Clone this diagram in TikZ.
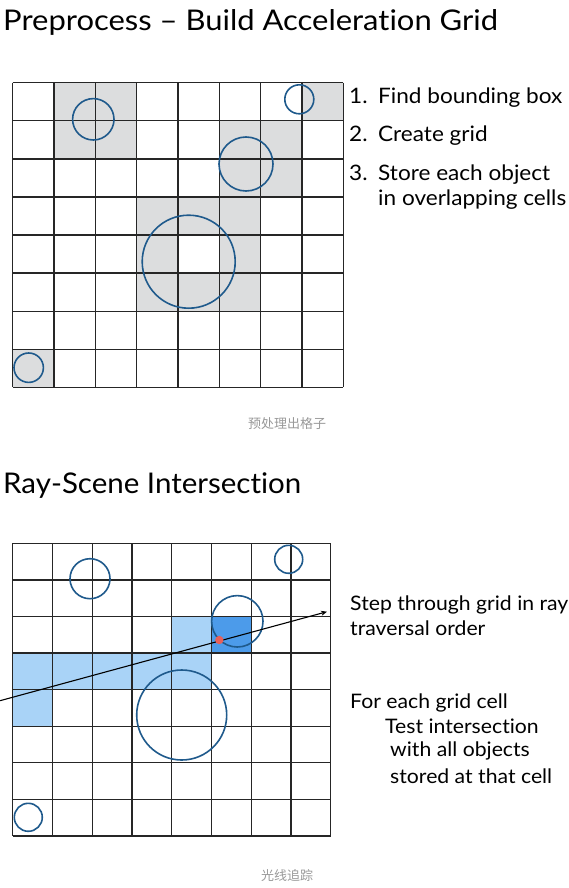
\documentclass[tikz,border=0pt]{standalone}
\usepackage{graphicx}
\usepackage{fontspec}
\setmainfont{Lato}[FakeStretch=1.06, Ligatures=NoCommon]
\newfontfamily\cjk{Noto Sans CJK SC}
\usetikzlibrary{arrows.meta}
\definecolor{cellgray}{HTML}{DCDDDE}
\definecolor{lightblue}{HTML}{A9D3F7}
\definecolor{darkblue}{HTML}{4C9BEA}
\definecolor{circ}{HTML}{1F5A8C}
\definecolor{hit}{HTML}{E8605A}
\definecolor{capgray}{HTML}{999999}
\tikzset{
  gridline/.style={line width=1.3pt, draw=black!85},
  obj/.style={line width=1.6pt, draw=circ},
  title/.style={anchor=base west, inner sep=0pt, font=\fontsize{28.5}{32}\selectfont},
  item/.style={anchor=base west, inner sep=0pt, font=\fontsize{20}{24}\selectfont},
  itemtop/.style={anchor=base west, inner sep=0pt, font=\fontsize{21.3}{24}\selectfont},
  caption/.style={anchor=center, inner sep=0pt, text=capgray, font=\cjk\fontsize{13}{15}\selectfont},
}
\begin{document}
\begin{tikzpicture}[x=1pt,y=-1pt]
\useasboundingbox (0,0) rectangle (569,888);
\fill[white] (0,0) rectangle (569,888);

% ---------- top ----------
\node[title] (t1) at (3,30.5) {\scalebox{1.025}[1]{Preprocess – Build Acceleration Grid}};

\def\ax{12.7}\def\ay{82.7}\def\aw{41.33}\def\ah{38.08}
\foreach \c/\r in {1/0,2/0,7/0,1/1,2/1,5/1,6/1,5/2,6/2,3/3,4/3,5/3,3/4,5/4,3/5,4/5,5/5,0/7}
  \fill[cellgray] ({\ax+\c*\aw},{\ay+\r*\ah}) rectangle ++(\aw,\ah);
\foreach \i in {0,...,8}{
  \draw[gridline] ({\ax+\i*\aw},\ay) -- ({\ax+\i*\aw},{\ay+8*\ah});
  \draw[gridline] (\ax,{\ay+\i*\ah}) -- ({\ax+8*\aw},{\ay+\i*\ah});
}
\draw[obj] (93.3,119.3) circle (20.7);
\draw[obj] (299.3,99.3) circle (14.5);
\draw[obj] (246,164) circle (27);
\draw[obj] (188.7,261.7) circle (46.5);
\draw[obj] (28.7,367.7) circle (14.7);

\node[itemtop] (n1) at (349,103.3) {1.};
\node[itemtop] (s1) at (378,103.3) {Find bounding box};
\node[itemtop] (n2) at (349,141.7) {2.};
\node[itemtop] (s2) at (378,141.7) {Create grid};
\node[itemtop] (n3) at (349,180) {3.};
\node[itemtop] (s3) at (378,180) {Store each object};
\node[itemtop] (s4) at (378,205) {in overlapping cells};

\node[caption] (c1) at (287,424) {预处理出格子};

% ---------- bottom ----------
\node[title] (t2) at (3,493) {\scalebox{0.977}[1]{Ray-Scene Intersection}};

\def\bx{12.7}\def\by{543.3}\def\bw{39.75}\def\bh{36.59}
\foreach \c/\r in {0/3,1/3,2/3,3/3,4/3,0/4,4/2}
  \fill[lightblue] ({\bx+\c*\bw},{\by+\r*\bh}) rectangle ++(\bw,\bh);
\fill[darkblue] ({\bx+5*\bw},{\by+2*\bh}) rectangle ++(\bw,\bh);
\foreach \i in {0,...,8}{
  \draw[gridline] ({\bx+\i*\bw},\by) -- ({\bx+\i*\bw},{\by+8*\bh});
  \draw[gridline] (\bx,{\by+\i*\bh}) -- ({\bx+8*\bw},{\by+\i*\bh});
}
\draw[obj] (90,578.7) circle (20);
\draw[obj] (288.7,559.3) circle (14);
\draw[obj] (237.3,621.3) circle (25.7);
\draw[obj] (181.7,715) circle (45);
\draw[obj] (28.3,817.3) circle (14);

\coordinate (rs) at (0,700.7);
\coordinate (re) at (327,611.7);
\draw[line width=1.1pt, -{Stealth[length=6pt,width=5pt]}] (rs) -- (re);
\fill[hit] (219.3,640) circle (4.2);

\node[item] (b1) at (350,610) {Step through grid in ray};
\node[item] (b2) at (350,635) {traversal order};
\node[item] (b3) at (350,708.3) {For each grid cell};
\node[item] (b4) at (385,733.3) {Test intersection};
\node[item] (b5) at (390,756.7) {with all objects};
\node[item] (b6) at (390,783.3) {stored at that cell};

\node[caption] (c2) at (287,876) {光线追踪};
\end{tikzpicture}
\end{document}
